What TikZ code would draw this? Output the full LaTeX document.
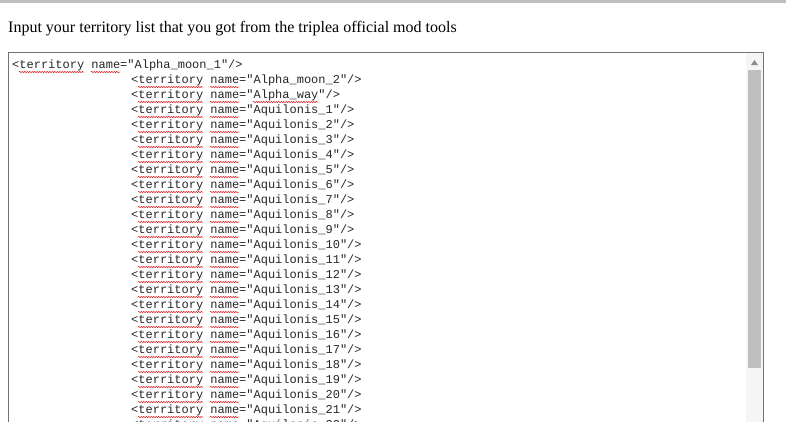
\documentclass[tikz,border=0pt]{standalone}
\usepackage{fontspec}
\setmainfont{Liberation Serif}
\newfontfamily\codefont{Liberation Mono}
\usetikzlibrary{decorations.pathmorphing}
\tikzset{
  codeline/.style={anchor=base west,inner sep=0,font=\codefont\fontsize{12}{12}\selectfont,text=black!85},
  squiggle/.style={draw=red!85!black,line width=0.5pt,decorate,decoration={snake,amplitude=0.6pt,segment length=2.5pt}}
}
\begin{document}
\begin{tikzpicture}[x=1pt,y=-1pt]
\useasboundingbox (0,0) rectangle (786,421);
\clip (0,0) rectangle (786,421);
\fill[black!25] (0,0) rectangle (786,3);
\node[anchor=base west,inner sep=0,font=\fontsize{16}{16}\selectfont] (title) at (8,32) {Input your territory list that you got from the triplea official mod tools};
\draw[black!55,line width=1pt] (8.5,430) -- (8.5,52.5) -- (763.5,52.5) -- (763.5,430);
\fill[black!4] (746,53) rectangle (763,430);
\fill[black!25] (748,70) rectangle (761,368);
\fill[black!45] (751,65) -- (758,65) -- (754.5,60) -- cycle;
\node[codeline] (l0) at (12,68) {<territory name="Alpha\_moon\_1"/>};
\draw[squiggle] (19,72) -- (84,72);
\draw[squiggle] (91,72) -- (120,72);
\foreach \t [count=\i] in {Alpha\_moon\_2,Alpha\_way,Aquilonis\_1,Aquilonis\_2,Aquilonis\_3,Aquilonis\_4,Aquilonis\_5,Aquilonis\_6,Aquilonis\_7,Aquilonis\_8,Aquilonis\_9,Aquilonis\_10,Aquilonis\_11,Aquilonis\_12,Aquilonis\_13,Aquilonis\_14,Aquilonis\_15,Aquilonis\_16,Aquilonis\_17,Aquilonis\_18,Aquilonis\_19,Aquilonis\_20,Aquilonis\_21,Aquilonis\_22}{
  \node[codeline] (l\i) at (131,68+15*\i) {<territory name="\t"/>};
  \draw[squiggle] (138,72+15*\i) -- (203,72+15*\i);
  \draw[squiggle] (210,72+15*\i) -- (239,72+15*\i);
}
\draw[squiggle] (253,102) -- (318,102);
\end{tikzpicture}
\end{document}
